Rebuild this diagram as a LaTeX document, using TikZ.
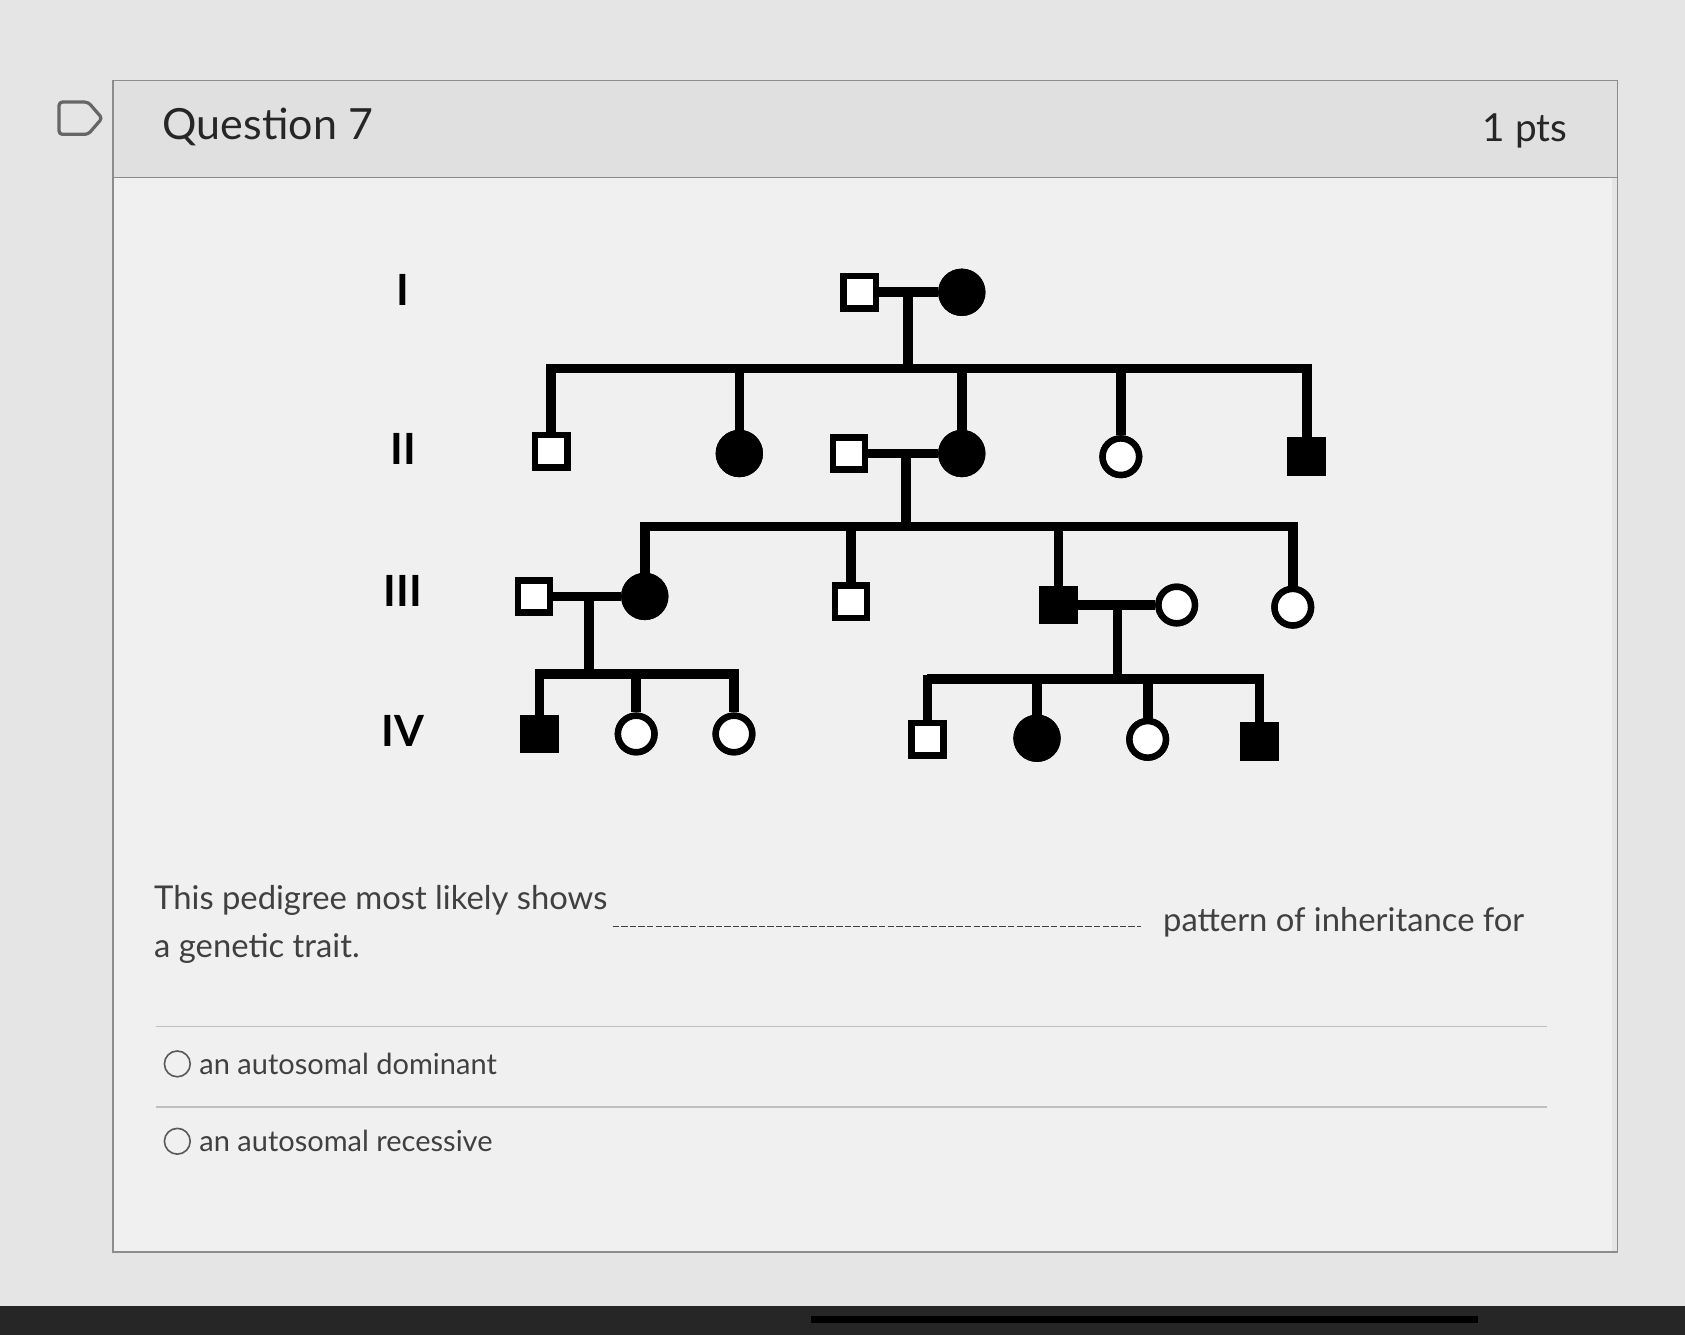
\documentclass[tikz,border=0pt]{standalone}
\usepackage{fontspec}
\setmainfont{Lato}
\begin{document}
\begin{tikzpicture}[x=1pt,y=-1pt,
 ln/.style={line width=9pt},
 msq/.style={draw=black,line width=6pt,minimum size=30pt,inner sep=0pt},
 fsq/.style={draw=black,fill=black,line width=6pt,minimum size=30pt,inner sep=0pt},
 fcirc/.style={circle,draw=black,fill=black,line width=4pt,minimum size=40pt,inner sep=0pt},
 mcirc/.style={circle,draw=black,fill=white,line width=6pt,minimum size=34pt,inner sep=0pt},
 gen/.style={font=\fontsize{40}{40}\selectfont\bfseries},
 body/.style={font=\fontsize{30.5}{34}\selectfont,text=black!75,anchor=west},
 opt/.style={font=\fontsize{27}{30}\selectfont,text=black!75,anchor=west}]
\useasboundingbox (0,0) rectangle (1568,1242);
\fill[black!10] (0,0) rectangle (1568,1242);
\fill[black!6] (105,75) rectangle (1500,1165);
\fill[black!12] (105,75) rectangle (1505,165);
\draw[black!45,line width=1.5pt] (105,75) rectangle (1505,1165);
\draw[black!45,line width=1.5pt] (105,165) -- (1505,165);
\draw[black!60,line width=3pt,rounded corners=3pt] (55,95) -- (82,95) -- (95,110) -- (82,125) -- (55,125) -- cycle;
\node[anchor=west,font=\fontsize{40}{40}\selectfont,text=black!85] (q) at (148,118) {Question 7};
\node[anchor=east,font=\fontsize{36}{36}\selectfont,text=black!85] (p) at (1462,122) {1 pts};
\fill[black!85] (0,1215) rectangle (1568,1242);
\draw[black,line width=6pt] (755,1228) -- (1375,1228);
% generation labels
\node[gen] (g1) at (375,270) {I};
\node[gen] (g2) at (375,418) {II};
\node[gen] (g3) at (375,550) {III};
\node[gen] (g4) at (375,680) {IV};
% Gen I
\node[msq] (a1) at (800,272) {};
\node[fcirc] (a2) at (895,272) {};
\coordinate (m1) at (845,272);
\coordinate (h1) at (845,343);
% Gen II
\node[msq] (b1) at (513,420) {};
\node[fcirc] (b2) at (688,422) {};
\node[msq] (b3) at (790,422) {};
\node[fcirc] (b4) at (895,422) {};
\node[mcirc] (b5) at (1043,425) {};
\node[fsq] (b6) at (1216,425) {};
\coordinate (m2) at (843,422);
% Gen III
\node[msq] (c0) at (497,555) {};
\node[fcirc] (c1) at (600,555) {};
\node[msq] (c2) at (792,560) {};
\node[fsq] (c3) at (985,563) {};
\node[mcirc] (c4) at (1095,563) {};
\node[mcirc] (c5) at (1203,565) {};
\coordinate (m3) at (548,555);
\coordinate (m4) at (1040,563);
% Gen IV
\node[fsq] (d1) at (502,683) {};
\node[mcirc] (d2) at (592,683) {};
\node[mcirc] (d3) at (683,683) {};
\node[msq] (d4) at (863,688) {};
\node[fcirc] (d5) at (965,687) {};
\node[mcirc] (d6) at (1068,688) {};
\node[fsq] (d7) at (1172,690) {};
% lines
\draw[ln] (a1.east) -- (a2.west);
\draw[ln] (m1) -- (h1);
\draw[ln] (509,343) -- (1220,343);
\draw[ln] (b1.north) -- (513,339);
\draw[ln] (b2.north) -- (688,339);
\draw[ln] (b4.north) -- (895,339);
\draw[ln] (b5.north) -- (1043,339);
\draw[ln] (b6.north) -- (1216,339);
\draw[ln] (b3.east) -- (b4.west);
\draw[ln] (m2) -- (843,490);
\draw[ln] (600,490) -- (1203,490);
\draw[ln] (c1.north) -- (600,486);
\draw[ln] (c2.north) -- (792,486);
\draw[ln] (c3.north) -- (985,486);
\draw[ln] (c5.north) -- (1203,486);
\draw[ln] (c0.east) -- (c1.west);
\draw[ln] (c3.east) -- (c4.west);
\draw[ln] (m3) -- (548,627);
\draw[ln] (500,627) -- (687,627);
\draw[ln] (d1.north) -- (502,623);
\draw[ln] (d2.north) -- (592,623);
\draw[ln] (d3.north) -- (683,623);
\draw[ln] (m4) -- (1040,632);
\draw[ln] (863,632) -- (1176,632);
\draw[ln] (d4.north) -- (863,628);
\draw[ln] (d5.north) -- (965,628);
\draw[ln] (d6.north) -- (1068,628);
\draw[ln] (d7.north) -- (1172,628);
% redraw nodes above lines
\foreach \n/\s in {a1/msq,b1/msq,b3/msq,c0/msq,c2/msq,d4/msq}{\node[\s,fill=white] at (\n) {};}
\foreach \n in {a2,b2,b4,c1,d5}{\node[fcirc] at (\n) {};}
\foreach \n in {b5,c4,c5,d2,d3,d6}{\node[mcirc] at (\n) {};}
\foreach \n in {b6,c3,d1,d7}{\node[fsq] at (\n) {};}
% text
\node[body] (t1) at (140,838) {This pedigree most likely shows};
\draw[black!75,line width=1.3pt,dash pattern=on 6pt off 2pt] (570,862) -- (1062,862);
\node[body,anchor=east] (t2) at (1422,858) {pattern of inheritance for};
\node[body] (t3) at (140,883) {a genetic trait.};
\draw[black!25,line width=1.2pt] (145,955) -- (1440,955);
\draw[black!25,line width=1.2pt] (145,1030) -- (1440,1030);
\node[circle,draw=black!65,line width=1.5pt,minimum size=24pt,inner sep=0pt] (r1) at (165,990) {};
\node[opt] (o1) at (182,990) {an autosomal dominant};
\node[circle,draw=black!65,line width=1.5pt,minimum size=24pt,inner sep=0pt] (r2) at (165,1062) {};
\node[opt] (o2) at (182,1062) {an autosomal recessive};
\end{tikzpicture}
\end{document}
